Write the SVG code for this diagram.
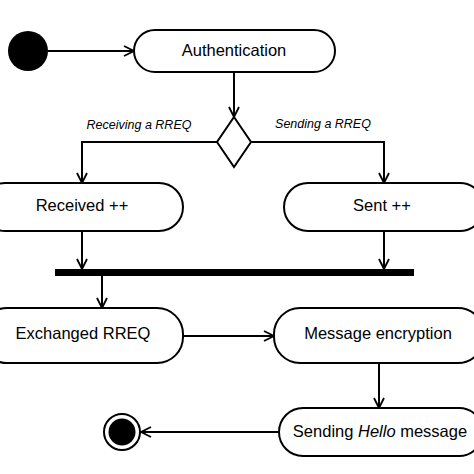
<svg xmlns="http://www.w3.org/2000/svg" width="474" height="474" viewBox="0 0 474 474">
<style>
.n{fill:#fff;stroke:#000;stroke-width:2}
.t{font-family:"Liberation Sans",Arial,sans-serif;font-size:16.5px;text-anchor:middle;fill:#000}
.l{font-family:"Liberation Sans",Arial,sans-serif;font-size:12.5px;font-style:italic;text-anchor:middle;fill:#000}
.c{fill:none;stroke:#000;stroke-width:2;marker-end:url(#a)}
</style>
<defs>
<marker id="a" viewBox="0 0 12 12" refX="11" refY="6" markerWidth="12" markerHeight="12" markerUnits="userSpaceOnUse" orient="auto">
<path d="M1,1 L11,6 L1,11" fill="none" stroke="#000" stroke-width="1.8"/>
</marker>
</defs>
<rect width="474" height="474" fill="#fff"/>
<g id="connectors">
<path class="c" d="M48,51 H134"/>
<path class="c" d="M234,72 V117"/>
<path class="c" d="M217,142 H82 V183"/>
<path class="c" d="M251,142 H384 V183"/>
<path class="c" d="M82,231 V269"/>
<path class="c" d="M384,231 V269"/>
<path class="c" d="M102,276 V308"/>
<path class="c" d="M183,336 H274"/>
<path class="c" d="M379,363 V408"/>
<path class="c" d="M279,432 H141"/>
<text class="l" x="139" y="129">Receiving a RREQ</text>
<text class="l" x="323" y="128">Sending a RREQ</text>
</g>
<g id="start"><circle cx="28" cy="51" r="20" fill="#000"/></g>
<g id="authentication"><rect class="n" x="134" y="30" width="201" height="42" rx="21"/><text class="t" x="234" y="55.5">Authentication</text></g>
<g id="decision"><path class="n" d="M234,117 L251,142 L234,167 L217,142 Z"/></g>
<g id="received"><rect class="n" x="-19" y="183" width="202" height="48" rx="24"/><text class="t" x="82" y="210.5">Received ++</text></g>
<g id="sent"><rect class="n" x="284" y="183" width="200" height="48" rx="24"/><text class="t" x="382" y="210.5">Sent ++</text></g>
<g id="join"><rect x="55" y="269" width="359" height="7" fill="#000"/></g>
<g id="exchanged"><rect class="n" x="-19" y="308" width="202" height="55" rx="26"/><text class="t" x="83" y="339">Exchanged RREQ</text></g>
<g id="encryption"><rect class="n" x="274" y="308" width="210" height="55" rx="26"/><text class="t" x="378" y="339">Message encryption</text></g>
<g id="hello"><rect class="n" x="279" y="408" width="204" height="48" rx="24"/><text class="t" x="380" y="437">Sending <tspan font-style="italic">Hello</tspan> message</text></g>
<g id="end"><circle cx="122" cy="432" r="18" fill="#fff" stroke="#000" stroke-width="2"/><circle cx="122" cy="432" r="13.5" fill="#000"/></g>
</svg>
